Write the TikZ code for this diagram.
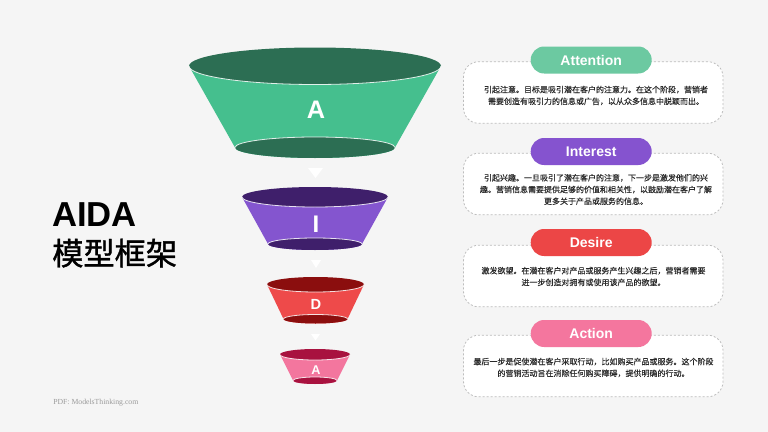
\documentclass[tikz,border=0pt]{standalone}
\usepackage{fontspec}
\setmainfont{Liberation Sans}
\newfontfamily\cjk[FakeBold=0.2]{Noto Sans CJK SC}
\newfontfamily\cjkbold[FakeBold=1.2]{Noto Sans CJK SC}
\newfontfamily\footfont{Liberation Serif}
\definecolor{bg}{HTML}{F5F5F5}
\definecolor{gbody}{HTML}{45BF8E}
\definecolor{gdark}{HTML}{2C6E53}
\definecolor{pbody}{HTML}{8455CF}
\definecolor{pdark}{HTML}{3F1F6B}
\definecolor{rbody}{HTML}{EE4A4A}
\definecolor{rdark}{HTML}{8B0E0E}
\definecolor{kbody}{HTML}{F3769E}
\definecolor{kdark}{HTML}{A8123F}
\definecolor{pillg}{HTML}{6CC9A1}
\definecolor{pillp}{HTML}{8553CF}
\definecolor{pillr}{HTML}{EC4646}
\definecolor{pillk}{HTML}{F4769E}
\definecolor{txt}{HTML}{2A2A2A}
\definecolor{dashc}{HTML}{BDBDBD}
\definecolor{foot}{HTML}{9A9A9A}
\newcommand{\funnel}[9]{%
  % #1 cx, #2 top y, #3 R1, #4 r1, #5 bottom y, #6 R2, #7 r2, #8 body, #9 dark
  \fill[#8] (#1-#3,#2) -- (#1-#6,#5) arc[start angle=180,end angle=0,x radius=#6,y radius=#7] -- (#1+#3,#2) -- cycle;
  \fill[#9] (#1,#2) ellipse[x radius=#3,y radius=#4];
  \draw[white,line width=0.6pt,opacity=0.85] (#1+#3,#2) arc[start angle=0,end angle=180,x radius=#3,y radius=#4];
  \fill[#9] (#1,#5) ellipse[x radius=#6,y radius=#7];
  \draw[white,line width=0.6pt,opacity=0.85] (#1+#6,#5) arc[start angle=0,end angle=-180,x radius=#6,y radius=#7];
}
\tikzset{
  card/.style={draw=dashc, fill=white, line width=0.6pt, dash pattern=on 1.5pt off 1.5pt,
    rounded corners=11.25pt, minimum width=194.6pt, minimum height=46.1pt, inner sep=0pt},
  pill/.style={fill=#1, rounded corners=10.1pt, minimum width=90.75pt, minimum height=20.25pt,
    inner sep=0pt, text=white, font=\bfseries\fontsize{10.5}{12}\selectfont},
  cardtext/.style={align=center, inner sep=0pt, text=txt, font=\cjk\fontsize{6}{8.8}\selectfont},
  flabel/.style={text=white, anchor=base, inner sep=0pt, font=\bfseries\fontsize{#1}{#1}\selectfont},
  tri/.style={fill=white}
}
\begin{document}
\begin{tikzpicture}[x=0.75pt,y=-0.75pt]
\fill[bg] (0,0) rectangle (768,432);
\useasboundingbox (0,0) rectangle (768,432);

% funnels
\funnel{315}{66}{126}{18.5}{147.5}{80}{10.5}{gbody}{gdark}
\funnel{315}{197}{73}{10}{244}{47}{6}{pbody}{pdark}
\funnel{315.5}{284.5}{48.5}{7.5}{319}{32}{4.5}{rbody}{rdark}
\funnel{315}{354.5}{35}{5.5}{380.5}{22}{3.5}{kbody}{kdark}

\node[flabel=19] (la) at (316,118) {A};
\node[flabel=18] (li) at (316,232) {I};
\node[flabel=11] (ld) at (316,309) {D};
\node[flabel=9.5] (lk) at (316,374) {A};

% arrows
\fill[tri] (308,168) -- (323,168) -- (315.5,178) -- cycle;
\fill[tri] (311,260) -- (321,260) -- (316,268) -- cycle;
\fill[tri] (311,334) -- (320,334) -- (315.5,340.5) -- cycle;

% title
\node[anchor=base west, inner sep=0pt, font=\bfseries\fontsize{26}{26}\selectfont] (title) at (52,226) {AIDA};
\node[anchor=base west, inner sep=0pt, font=\cjkbold\fontsize{23.4}{24}\selectfont] (sub) at (52,265) {模型框架};
\node[anchor=base west, inner sep=0pt, text=foot, font=\footfont\fontsize{5.8}{6}\selectfont] (src) at (53,404) {PDF: ModelsThinking.com};

% cards
\node[card] (c1) at (593.25,92.5) {};
\node[card] (c2) at (593.25,184) {};
\node[card] (c3) at (593.25,276) {};
\node[card] (c4) at (593.25,366) {};

\node[pill=pillg] (p1) at (591.2,60) {Attention};
\node[pill=pillp] (p2) at (591.2,151.5) {Interest};
\node[pill=pillr] (p3) at (591.2,242.5) {Desire};
\node[pill=pillk] (p4) at (591.2,333.5) {Action};

\node[cardtext] (t1) at (596,95.5) {引起注意。目标是吸引潜在客户的注意力。在这个阶段，营销者\\需要创造有吸引力的信息或广告，以从众多信息中脱颖而出。};
\node[cardtext] (t2) at (596,189.5) {引起兴趣。一旦吸引了潜在客户的注意，下一步是激发他们的兴\\趣。营销信息需要提供足够的价值和相关性，以鼓励潜在客户了解\\更多关于产品或服务的信息。};
\node[cardtext] (t3) at (593.5,276.5) {激发欲望。在潜在客户对产品或服务产生兴趣之后，营销者需要\\进一步创造对拥有或使用该产品的欲望。};
\node[cardtext] (t4) at (593.5,367.5) {最后一步是促使潜在客户采取行动，比如购买产品或服务。这个阶段\\的营销活动旨在消除任何购买障碍，提供明确的行动。};
\end{tikzpicture}
\end{document}
